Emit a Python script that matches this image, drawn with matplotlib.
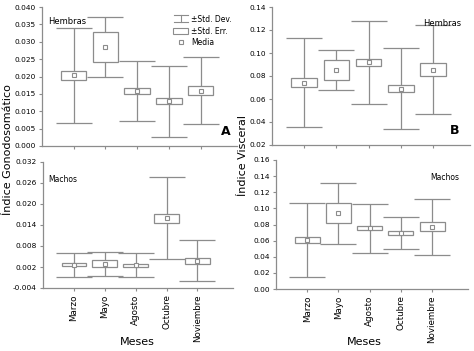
import matplotlib
matplotlib.use("Agg")
import matplotlib.pyplot as plt
from matplotlib.lines import Line2D
from matplotlib.patches import Patch
from matplotlib.legend_handler import HandlerBase
import numpy as np

meses = ["Marzo", "Mayo", "Agosto", "Octubre", "Noviembre"]

# Índice Gonadosomático - Hembras
igs_h_mean = [0.0203, 0.0285, 0.0158, 0.0129, 0.0159]
igs_h_se = [0.00135, 0.0043, 0.00077, 0.00087, 0.00135]
igs_h_sd = [0.0136, 0.0086, 0.0087, 0.0102, 0.0096]

# Índice Gonadosomático - Machos
igs_m_mean = [0.0026, 0.0029, 0.0025, 0.0159, 0.0038]
igs_m_se = [0.0004, 0.0010, 0.0004, 0.00125, 0.0009]
igs_m_sd = [0.0035, 0.0034, 0.0034, 0.0117, 0.0059]

# Índice Visceral - Hembras
iv_h_mean = [0.0743, 0.0854, 0.0918, 0.0691, 0.0854]
iv_h_se = [0.0036, 0.0087, 0.0034, 0.0029, 0.0057]
iv_h_sd = [0.0388, 0.0175, 0.0363, 0.0349, 0.0388]

# Índice Visceral - Machos
iv_m_mean = [0.0610, 0.0940, 0.0755, 0.0693, 0.0771]
iv_m_se = [0.0037, 0.0124, 0.0027, 0.0025, 0.0055]
iv_m_sd = [0.0460, 0.0376, 0.0305, 0.0200, 0.0347]

GRAY = "#8c8c8c"
plt.rcParams["font.family"] = ["DejaVu Sans"]

W, H = 474, 351
fig = plt.figure(figsize=(W / 100, H / 100), dpi=100)


def add_ax(l, r, t, b):
    return fig.add_axes([l / W, 1 - b / H, (r - l) / W, (b - t) / H])


def draw(ax, mean, se, sd, ylim, yticks, fmt, xlabels):
    x = np.arange(1, len(mean) + 1)
    mean = np.array(mean); se = np.array(se); sd = np.array(sd)
    ax.errorbar(x, mean, yerr=sd, fmt="none", ecolor=GRAY, elinewidth=0.9,
                capsize=13, capthick=0.9, zorder=1)
    ax.bar(x, 2 * se, bottom=mean - se, width=0.8, facecolor="white",
           edgecolor=GRAY, linewidth=0.9, zorder=2)
    ax.plot(x, mean, linestyle="none", marker="s", markersize=2.8,
            markerfacecolor="white", markeredgecolor=GRAY, markeredgewidth=0.8, zorder=3)
    ax.set_xlim(0.0, 6.15)
    ax.set_ylim(*ylim)
    ax.set_yticks(yticks)
    ax.set_yticklabels([fmt.format(v) for v in yticks], fontsize=5.3)
    ax.set_xticks(x)
    if xlabels:
        ax.set_xticklabels(meses, rotation=90, fontsize=6.3)
    else:
        ax.set_xticklabels([])
    for s in ["top", "right"]:
        ax.spines[s].set_visible(False)
    for s in ["left", "bottom"]:
        ax.spines[s].set_color(GRAY)
        ax.spines[s].set_linewidth(0.9)
    ax.tick_params(axis="both", colors=GRAY, length=2.5, width=0.8, pad=2, labelcolor="black")


class WhiskerHandler(HandlerBase):
    def create_artists(self, legend, orig_handle, xd, yd, width, height, fontsize, trans):
        cx = xd + width / 2
        y0 = yd
        y1 = yd + height
        hw = width * 0.45
        lines = [
            Line2D([cx - hw, cx + hw], [y1, y1]),
            Line2D([cx - hw, cx + hw], [y0, y0]),
            Line2D([cx, cx], [y0, y1]),
        ]
        for ln in lines:
            ln.set_color(GRAY)
            ln.set_linewidth(0.8)
            ln.set_transform(trans)
        return lines


axA1 = add_ax(42, 237, 7, 146)
draw(axA1, igs_h_mean, igs_h_se, igs_h_sd, (0, 0.040),
     np.round(np.arange(0, 0.0401, 0.005), 3), "{:.3f}", False)
axA1.text(0.03, 0.93, "Hembras", transform=axA1.transAxes, fontsize=6, va="top")
axA1.text(0.92, 0.08, "A", transform=axA1.transAxes, fontsize=9, fontweight="bold")
h_sd = Line2D([], [])
h_se = Patch(facecolor="white", edgecolor=GRAY, linewidth=0.8)
h_mean = Line2D([], [], linestyle="none", marker="s", markersize=2.8,
                markerfacecolor="white", markeredgecolor=GRAY, markeredgewidth=0.8)
axA1.legend([h_sd, h_se, h_mean], ["±Std. Dev.", "±Std. Err.", "Media"],
            handler_map={h_sd: WhiskerHandler()}, loc="upper right",
            bbox_to_anchor=(1.01, 0.99), frameon=False, fontsize=5.5,
            handlelength=2.0, handleheight=0.9, handletextpad=0.4, labelspacing=0.3)

axA2 = add_ax(43, 233, 162, 288)
draw(axA2, igs_m_mean, igs_m_se, igs_m_sd, (-0.004, 0.032),
     np.round(np.arange(-0.004, 0.0321, 0.006), 3), "{:.3f}", True)
axA2.text(0.03, 0.90, "Machos", transform=axA2.transAxes, fontsize=5.5, va="top")

axB1 = add_ax(272, 470, 7, 145)
draw(axB1, iv_h_mean, iv_h_se, iv_h_sd, (0.02, 0.14),
     np.round(np.arange(0.02, 0.1401, 0.02), 2), "{:.2f}", False)
axB1.text(0.86, 0.91, "Hembras", transform=axB1.transAxes, fontsize=6, va="top", ha="center")
axB1.text(0.90, 0.08, "B", transform=axB1.transAxes, fontsize=9, fontweight="bold")

axB2 = add_ax(276, 468, 160, 289)
draw(axB2, iv_m_mean, iv_m_se, iv_m_sd, (0.0, 0.16),
     np.round(np.arange(0.0, 0.1601, 0.02), 2), "{:.2f}", True)
axB2.text(0.88, 0.90, "Machos", transform=axB2.transAxes, fontsize=5.5, va="top", ha="center")

fig.text(137 / W, 1 - 342 / H, "Meses", fontsize=8, ha="center", va="center")
fig.text(364 / W, 1 - 342 / H, "Meses", fontsize=8, ha="center", va="center")

fig.text(8 / W, 1 - 150 / H, "Índice Gonodosomático", rotation=90, fontsize=8,
         ha="center", va="center")
fig.text(243 / W, 1 - 155 / H, "Índice Visceral", rotation=90, fontsize=8,
         ha="center", va="center")

fig.savefig("out.png", dpi=100)
